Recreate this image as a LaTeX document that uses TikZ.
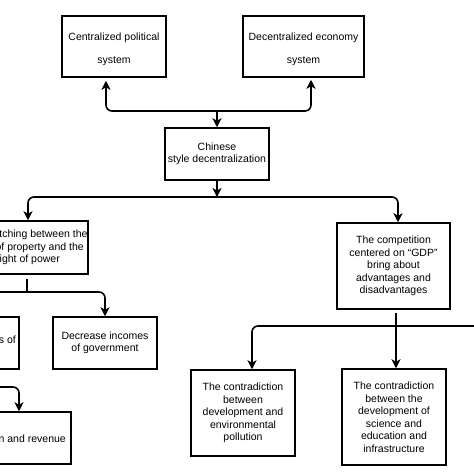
\documentclass[tikz,border=0pt]{standalone}
\usepackage{fontspec}
\setmainfont{Liberation Sans}
\usetikzlibrary{arrows.meta}
\begin{document}
\begin{tikzpicture}[x=1pt,y=-1pt,
  box/.style={draw, line width=1.5pt, inner sep=0pt, align=center, font=\fontsize{10.5}{12.5}\selectfont},
  conn/.style={line width=1.6pt},
  thinconn/.style={line width=1.1pt},
  arr/.style={-{Stealth[length=9pt,width=9pt,inset=2.5pt]}},
  rc/.style={rounded corners=6pt}]
\useasboundingbox (0,0) rectangle (474,474);
\clip (0,0) rectangle (474,474);
\fill[white] (0,0) rectangle (474,474);
% boxes
\node[box, minimum width=104pt, minimum height=61pt] (cps) at (114,46.5) {};
\node[align=center, inner sep=0pt, font=\fontsize{10.5}{23}\selectfont] (cpst) at (114,49) {Centralized political\\system};
\node[box, minimum width=121pt, minimum height=61pt] (des) at (303.5,46.5) {};
\node[align=center, inner sep=0pt, font=\fontsize{10.5}{23}\selectfont] (dest) at (303.5,49) {Decentralized economy\\system};
\node[box, minimum width=104pt, minimum height=52pt] (csd) at (217,154) {Chinese\\style decentralization};
\node[box, minimum width=120pt, minimum height=53pt] (mis) at (28,247.5) {Mismatching between the\\right of property and the\\right of power};
\node[box, minimum width=113pt, minimum height=86pt] (gdp) at (393.5,266) {The competition\\centered on “GDP”\\bring about\\advantages and\\disadvantages};
\node[box, minimum width=104pt, minimum height=52pt] (sof) at (-33,343) {};
\node[anchor=east, inner sep=0pt, font=\fontsize{10.5}{12.5}\selectfont] (softxt) at (16,340) {s of};
\node[box, minimum width=104pt, minimum height=52pt] (dec) at (105,343) {Decrease incomes\\of government};
\node[box, minimum width=131pt, minimum height=52pt] (rev) at (5.5,438) {};
\node[anchor=east, inner sep=0pt, font=\fontsize{10.5}{12.5}\selectfont] (revtxt) at (66,439) {n and revenue};
\node[box, minimum width=104pt, minimum height=86pt] (env) at (243,413) {The contradiction\\between\\development and\\environmental\\pollution};
\node[box, minimum width=104pt, minimum height=96pt] (sci) at (394,417) {The contradiction\\between the\\development of\\science and\\education and\\infrastructure};
% junctions
\coordinate (J1) at (217,111);
\coordinate (J2) at (217,197);
\coordinate (M1) at (27,279);
\coordinate (J3) at (27,292);
\coordinate (L1) at (19,387);
\coordinate (C1) at (396,313);
\coordinate (J4) at (396,326);
\coordinate (R1) at (480,326);
% connectors
\draw[conn,arr] (J1) -- (csd.north);
\draw[conn,arr,rc] (J1) -| ([xshift=-8pt,yshift=-3pt]cps.south);
\draw[conn,arr,rc] (J1) -| ([xshift=7.5pt,yshift=-2pt]des.south);
\draw[conn,arr] (csd.south) -- (J2);
\draw[conn,arr,rc] (J2) -| (mis.north);
\draw[conn,arr,rc] (J2) -| ([xshift=4.5pt]gdp.north);
\draw[conn] (M1) -- (J3);
\draw[conn,arr,rc] (J3) -| (dec.north);
\draw[conn,arr,rc] (J3) -| (sof.north);
\draw[conn,arr,rc] (sof.south) |- (L1) -- (L1 |- rev.north);
\draw[thinconn] (C1) -- (J4);
\draw[thinconn,arr] (J4) -- (J4 |- sci.north);
\draw[conn,arr,rc] (J4) -| ([xshift=9pt]env.north);
\draw[conn] (J4) -- (R1);
\end{tikzpicture}
\end{document}
